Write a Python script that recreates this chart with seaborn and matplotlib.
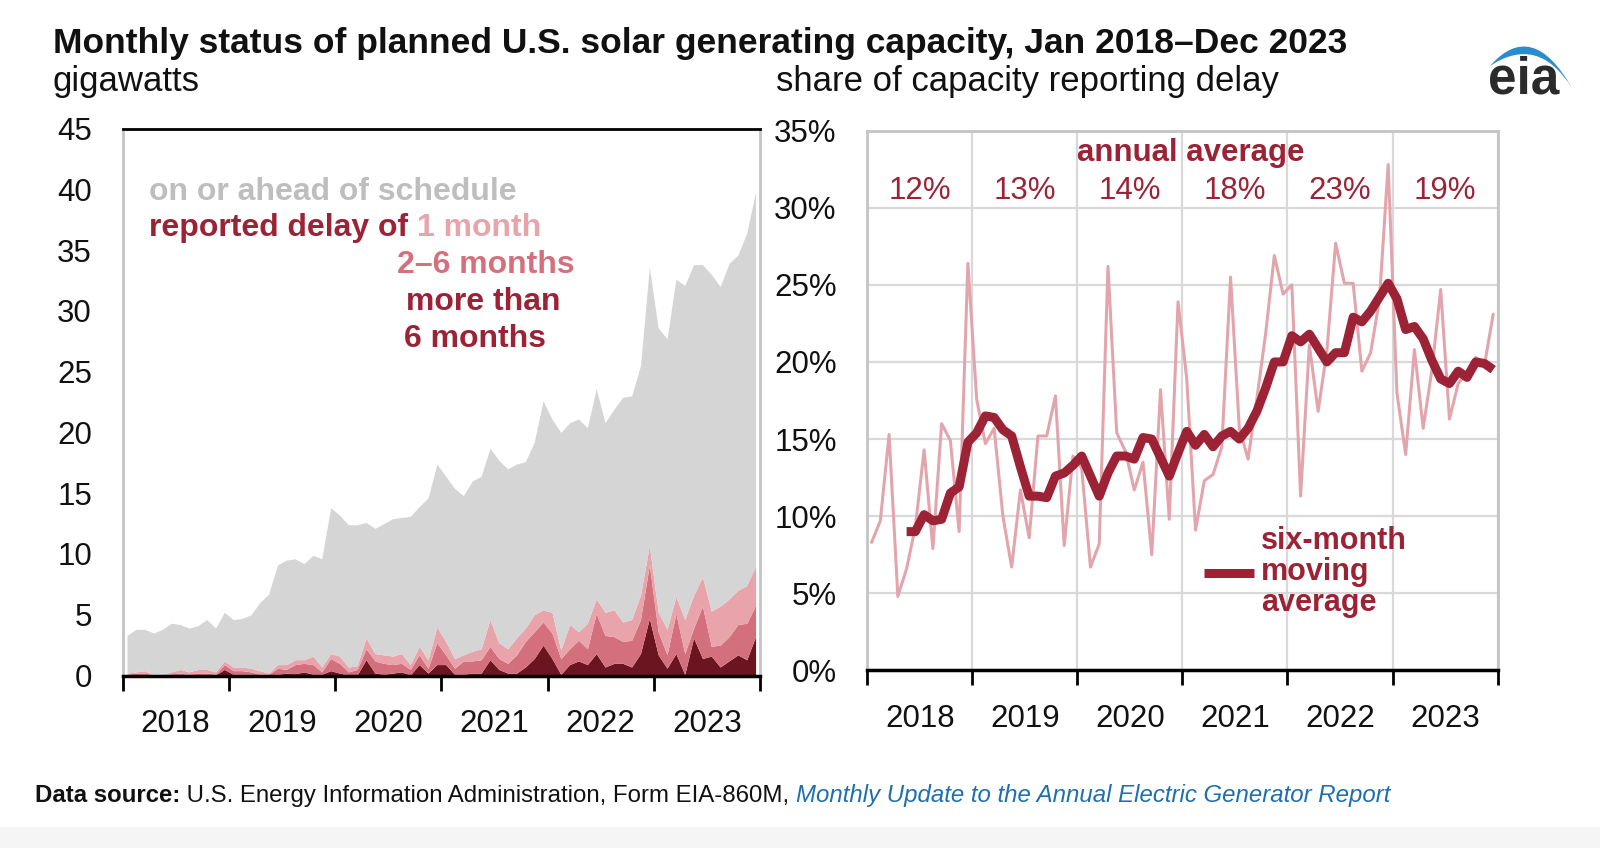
import numpy as np
import seaborn as sns
import matplotlib.pyplot as plt
from matplotlib.path import Path
from matplotlib.patches import PathPatch, Rectangle

# monthly data, Jan 2018 - Dec 2023
years = ['2018', '2019', '2020', '2021', '2022', '2023']

# planned solar capacity, gigawatts (cumulative levels of the stacked areas)
total_gw = [3.3, 3.8, 3.8, 3.5, 3.8, 4.3, 4.2, 3.9, 4.1, 4.6, 3.9, 5.2,
            4.6, 4.7, 5.0, 6.0, 6.7, 9.1, 9.5, 9.6, 9.2, 9.9, 9.6, 13.8,
            13.2, 12.4, 12.4, 12.6, 12.1, 12.5, 12.9, 13.0, 13.1, 13.9, 14.6, 17.4,
            16.4, 15.4, 14.8, 16.0, 16.4, 18.7, 17.7, 17.0, 17.4, 17.6, 19.2, 22.6,
            21.1, 20.0, 20.8, 21.1, 20.4, 23.6, 20.8, 21.9, 22.9, 23.0, 25.5, 33.6,
            28.6, 27.7, 32.6, 32.1, 33.8, 33.8, 33.0, 32.0, 33.9, 34.6, 36.4, 39.8]
delayed_1plus_gw = [0.2, 0.3, 0.4, 0.05, 0.1, 0.3, 0.5, 0.3, 0.5, 0.5, 0.3, 1.2,
                    0.7, 0.7, 0.6, 0.4, 0.2, 0.9, 0.9, 1.3, 1.3, 1.6, 0.7, 1.8,
                    1.6, 0.7, 0.8, 3.1, 1.8, 1.7, 1.6, 1.8, 0.9, 2.4, 1.3, 4.0,
                    2.8, 1.4, 1.7, 2.0, 2.2, 4.6, 2.7, 2.2, 3.1, 3.9, 5.0, 5.4,
                    5.2, 2.1, 4.2, 3.6, 4.3, 6.3, 5.2, 5.4, 4.4, 4.6, 6.6, 10.7,
                    5.2, 3.8, 6.5, 4.6, 6.6, 8.1, 5.3, 5.7, 6.3, 7.0, 7.4, 9.0]
delayed_2plus_gw = [0.1, 0.2, 0.2, 0.05, 0.05, 0.15, 0.2, 0.1, 0.2, 0.2, 0.1, 0.9,
                    0.4, 0.4, 0.3, 0.1, 0.1, 0.6, 0.5, 0.9, 1.0, 0.9, 0.3, 1.4,
                    1.0, 0.3, 0.5, 2.2, 1.2, 1.0, 0.9, 1.0, 0.5, 1.7, 0.6, 2.7,
                    1.7, 0.6, 1.2, 1.2, 1.3, 2.4, 1.4, 1.0, 1.7, 2.8, 3.6, 4.4,
                    3.5, 1.4, 2.2, 2.9, 2.2, 5.1, 3.3, 3.2, 2.8, 2.9, 4.6, 9.1,
                    3.6, 1.7, 5.1, 1.8, 3.9, 5.7, 2.4, 2.5, 3.2, 4.2, 4.3, 5.8]
delayed_6plus_gw = [0.0, 0.05, 0.05, 0.0, 0.0, 0.05, 0.1, 0.05, 0.05, 0.1, 0.05, 0.5,
                    0.1, 0.1, 0.1, 0.05, 0.05, 0.1, 0.2, 0.15, 0.3, 0.1, 0.1, 0.4,
                    0.2, 0.05, 0.05, 1.3, 0.2, 0.1, 0.2, 0.3, 0.05, 0.9, 0.2, 0.9,
                    0.9, 0.1, 0.1, 0.2, 0.2, 1.3, 0.5, 0.2, 0.2, 0.7, 1.4, 2.5,
                    1.4, 0.1, 0.9, 1.2, 0.9, 1.8, 0.7, 1.0, 1.0, 0.7, 1.8, 4.7,
                    1.7, 0.6, 1.8, 0.1, 3.1, 1.4, 1.6, 0.7, 1.2, 1.7, 1.3, 3.2]

# share of capacity reporting delay, percent
share_delayed = [8.3, 9.7, 15.3, 4.8, 6.6, 9.3, 14.3, 7.9, 16.0, 14.9, 9.0, 26.4,
                 17.6, 14.7, 15.7, 10.0, 6.7, 11.7, 8.6, 15.2, 15.2, 17.8, 8.1, 13.9,
                 13.1, 6.7, 8.2, 26.2, 15.4, 14.2, 11.7, 13.5, 7.5, 18.2, 9.8, 23.9,
                 18.9, 9.1, 12.3, 12.7, 14.5, 25.5, 15.7, 13.7, 17.6, 21.8, 26.9, 24.4,
                 25.0, 11.3, 21.1, 16.8, 20.7, 27.7, 25.1, 25.1, 19.4, 20.6, 24.0, 32.8,
                 18.0, 14.0, 20.8, 15.7, 19.5, 24.7, 16.3, 18.6, 19.3, 20.3, 19.8, 23.1]
# six-month moving average, starting May 2018
share_6mo_avg = [9.0, 9.0, 10.1, 9.7, 9.8, 11.5, 11.9, 14.8,
                 15.4, 16.5, 16.4, 15.6, 15.2, 13.2, 11.3, 11.3, 11.2, 12.6, 12.8, 13.3,
                 13.9, 12.6, 11.3, 12.8, 13.9, 13.9, 13.7, 15.1, 15.0, 13.8, 12.6, 14.1,
                 15.5, 14.6, 15.3, 14.5, 15.2, 15.5, 15.0, 15.7, 16.8, 18.3, 20.0, 20.0,
                 21.7, 21.3, 21.8, 20.9, 20.0, 20.6, 20.6, 22.9, 22.6, 23.3, 24.2, 25.1,
                 24.1, 22.1, 22.3, 21.5, 20.1, 18.9, 18.6, 19.4, 19.0, 20.0, 19.9, 19.5]
annual_avg = [12, 13, 14, 18, 23, 19]

GRAY = '#D5D5D5'
PINK1 = '#E8A3AB'
PINK2 = '#D4707D'
DARK = '#6B1520'
MAROON = '#9B2335'
LIGHTLINE = '#E3A5AC'
INK = '#111111'

sns.set_theme(style='white')
plt.rcParams['font.family'] = ['Liberation Sans', 'DejaVu Sans']

fig = plt.figure(figsize=(16, 8.48), dpi=100)
axL = fig.add_axes([0.0766, 0.2034, 0.3984, 0.645])
axR = fig.add_axes([0.542, 0.2094, 0.394, 0.6366])

months = np.arange(len(total_gw)) + 0.5
zeros = np.zeros(len(months))

# left panel: stacked areas
axL.fill_between(months, zeros, delayed_6plus_gw, color=DARK, lw=0)
axL.fill_between(months, delayed_6plus_gw, delayed_2plus_gw, color=PINK2, lw=0)
axL.fill_between(months, delayed_2plus_gw, delayed_1plus_gw, color=PINK1, lw=0)
axL.fill_between(months, delayed_1plus_gw, total_gw, color=GRAY, lw=0)

year_edges = np.arange(0, 73, 12)
year_mids = np.arange(6, 72, 12)

for ax in (axL, axR):
    ax.set_xlim(0, 72)
    ax.set_xticks(year_edges)
    ax.set_xticklabels([])
    ax.set_xticks(year_mids, minor=True)
    ax.set_xticklabels(years, minor=True)
    ax.tick_params(axis='x', which='major', direction='out', length=11, width=2,
                   color='black', bottom=True)
    ax.tick_params(axis='x', which='minor', length=0, pad=24, labelsize=22.5,
                   labelcolor=INK)
    ax.tick_params(axis='y', length=0, pad=22, labelsize=22.5, labelcolor=INK)
    for side in ('left', 'right', 'top'):
        ax.spines[side].set_color('#C4C4C4')
        ax.spines[side].set_linewidth(2)
    ax.spines['bottom'].set_color('black')
    ax.spines['bottom'].set_linewidth(2.5)

axL.spines['top'].set_color('black')
axL.set_ylim(0, 45)
axL.set_yticks(range(0, 46, 5))

axL.text(3, 39.8, 'on or ahead of schedule', color='#BEBEBE', fontsize=23,
         fontweight='bold', va='center')
t = axL.text(3, 36.8, 'reported delay of', color=MAROON, fontsize=23,
             fontweight='bold', va='center')
axL.annotate('1 month', xy=(1, 0), xycoords=t, xytext=(6, 0),
             textcoords='offset points', color=PINK1, fontsize=23,
             fontweight='bold', va='bottom')
axL.text(31.0, 33.75, '2–6 months', color=PINK2, fontsize=23, fontweight='bold', va='center')
axL.text(32.0, 30.7, 'more than', color=MAROON, fontsize=23, fontweight='bold', va='center')
axL.text(31.8, 27.7, '6 months', color=MAROON, fontsize=23, fontweight='bold', va='center')

# right panel: delay share
sns.lineplot(x=months, y=share_delayed, ax=axR, color=LIGHTLINE, lw=2.2)
sns.lineplot(x=months[4:], y=share_6mo_avg, ax=axR, color=MAROON, lw=6.5,
             solid_capstyle='butt', solid_joinstyle='round')
axR.set_ylim(0, 35)
axR.set_yticks(range(0, 36, 5))
axR.set_yticklabels([f'{v}%' for v in range(0, 36, 5)])
axR.grid(True, which='major', color='#D9D9D9', lw=1.6)
axR.set_axisbelow(True)

axR.text(37, 33.55, 'annual average', color=MAROON, fontsize=22.5,
         fontweight='bold', ha='center', va='center')
for mid, val in zip(year_mids, annual_avg):
    axR.text(mid, 31.1, f'{val}%', color=MAROON, fontsize=22.5, ha='center', va='center')

axR.plot([38.5, 44.2], [6.3, 6.3], color=MAROON, lw=6.5, solid_capstyle='butt')
axR.text(45.0, 6.4, 'six-month\nmoving\naverage', color=MAROON, fontsize=22,
         fontweight='bold', va='center', linespacing=1.05)

# titles
fig.text(53 / 1600, 1 - 43 / 848, 'Monthly status of planned U.S. solar generating capacity, Jan 2018–Dec 2023',
         fontsize=25.5, fontweight='bold', color=INK, va='center')
fig.text(53 / 1600, 1 - 82 / 848, 'gigawatts', fontsize=25, color=INK, va='center')
fig.text(776 / 1600, 1 - 82 / 848, 'share of capacity reporting delay', fontsize=25,
         color=INK, va='center')

# eia logo
fig.text(1524 / 1600, 1 - 80 / 848, 'eia', fontsize=37, fontweight='bold', color='#2B2B2B',
         ha='center', va='center')
pts = [(1490, 66), (1532, 18), (1572, 88), (1538, 34), (1490, 66)]
pts = [(x / 1600, 1 - y / 848) for x, y in pts]
crescent = Path(pts, [Path.MOVETO, Path.CURVE3, Path.CURVE3, Path.CURVE3, Path.CURVE3])
fig.add_artist(PathPatch(crescent, facecolor='#2A8BCF', edgecolor='none',
                         transform=fig.transFigure))

# source line
s1 = fig.text(35 / 1600, 1 - 807 / 848, 'Data source:', fontsize=17.3, fontweight='bold',
              color=INK, va='bottom')
s2 = axL.annotate(' U.S. Energy Information Administration, Form EIA-860M, ', xy=(1, 0),
                  xycoords=s1, fontsize=17.3, color=INK, va='bottom',
                  annotation_clip=False)
axL.annotate('Monthly Update to the Annual Electric Generator Report', xy=(1, 0),
             xycoords=s2, fontsize=17.3, color='#1F6FB0', style='italic', va='bottom',
             annotation_clip=False)

fig.add_artist(Rectangle((0, 0), 1, 0.025, transform=fig.transFigure,
                         facecolor='#F5F5F5', edgecolor='none'))

fig.savefig('out.png', dpi=100)
